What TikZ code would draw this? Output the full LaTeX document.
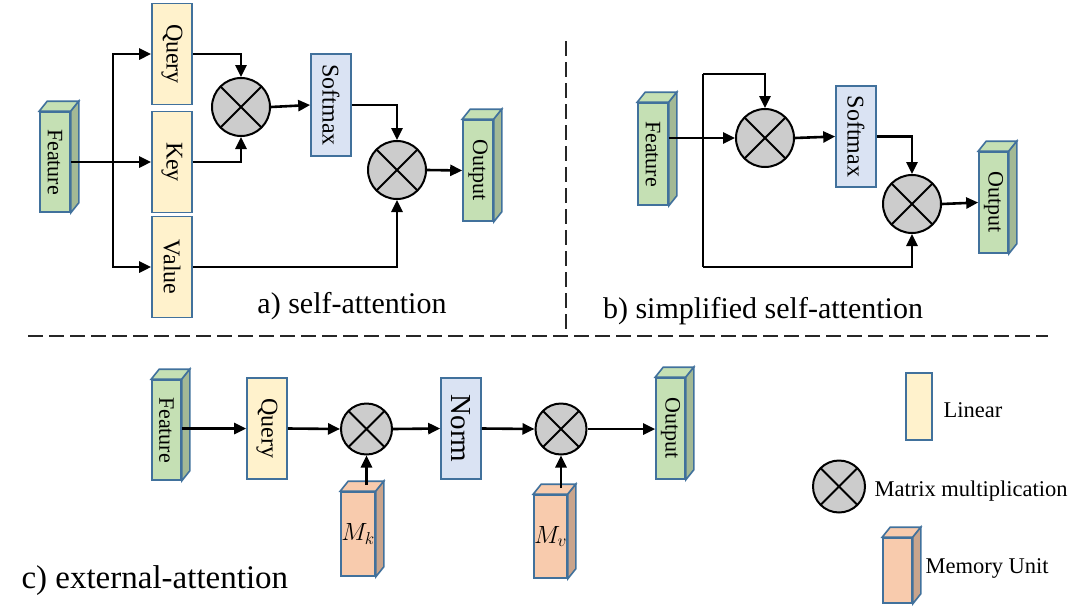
\documentclass[tikz,border=0pt]{standalone}
\usepackage{fontspec}
\setmainfont{Liberation Serif}
\usetikzlibrary{arrows.meta,calc}
\definecolor{bord}{HTML}{41719C}
\definecolor{linfill}{HTML}{FFF2CC}
\definecolor{bluefill}{HTML}{DAE3F3}
\definecolor{grnfront}{HTML}{C5E0B4}
\definecolor{grnside}{HTML}{A3B995}
\definecolor{memfront}{HTML}{F8CBAD}
\definecolor{memside}{HTML}{C9A48C}
\definecolor{mulfill}{HTML}{CCCCCC}
\tikzset{
  box/.style={draw=bord, line width=1.6pt, inner sep=0pt, minimum width=40pt, minimum height=101pt, font=\fontsize{24}{28}\selectfont},
  linbox/.style={box, fill=linfill},
  bluebox/.style={box, fill=bluefill},
  featbox/.style={box, fill=grnfront, minimum width=30pt, minimum height=101pt, font=\fontsize{22}{26}\selectfont},
  membox/.style={box, fill=memfront, minimum width=34pt, minimum height=84pt, font=\fontsize{27}{30}\selectfont},
  mul/.style={circle, draw=black, line width=2pt, fill=mulfill, minimum size=#1, inner sep=0pt,
    path picture={\draw[line width=2pt] (path picture bounding box.north west) -- (path picture bounding box.south east)
      (path picture bounding box.north east) -- (path picture bounding box.south west);}},
  mul/.default=58pt,
  conn/.style={line width=2.6pt, -{Triangle[length=12pt,width=11pt]}},
  plain/.style={line width=2.6pt},
  sep/.style={line width=2.2pt, dash pattern=on 15pt off 6pt, draw=black!85},
  caption/.style={font=\fontsize{30}{34}\selectfont, anchor=base},
  legend/.style={font=\fontsize{22.5}{26}\selectfont, anchor=west},
}
\newcommand{\mydepth}[3]{%
  \filldraw[draw=bord, line width=1.6pt, fill=#2] (#1.north west) -- ++(8,-10) -- ($(#1.north east)+(8,-10)$) -- (#1.north east) -- cycle;
  \filldraw[draw=bord, line width=1.6pt, fill=#3] (#1.north east) -- ++(8,-10) -- ($(#1.south east)+(8,-10)$) -- (#1.south east) -- cycle;
}
\newcommand{\rt}[1]{\rotatebox{-90}{#1}}
\begin{document}
\begin{tikzpicture}[x=1pt,y=-1pt]
\useasboundingbox (0,0) rectangle (1080,611);
% ---------------- a) self-attention
\node[featbox, minimum width=30pt, minimum height=100pt] (fa) at (55,162) {\rt{Feature}};
\mydepth{fa}{grnfront}{grnside}
\node[linbox] (qa) at (172,54) {\rt{Query}};
\node[linbox] (ka) at (172,162) {\rt{Key}};
\node[linbox] (va) at (172,267) {\rt{Value}};
\node[mul] (m1a) at (241,107) {};
\node[bluebox, minimum height=102pt] (sa) at (331,105) {\rt{Softmax}};
\node[mul] (m2a) at (397,170) {};
\node[featbox] (oa) at (478,170.5) {\rt{Output}};
\mydepth{oa}{grnfront}{grnside}
\coordinate (ba) at (113,162);
\draw[conn] (fa.east) -- (ka.west);
\draw[conn] (ba) |- (qa.west);
\draw[conn] (ba) |- (va.west);
\draw[conn] (qa.east) -| (m1a.north);
\draw[conn] (ka.east) -| (m1a.south);
\draw[conn] (m1a.east) -- (sa.west);
\draw[conn] (sa.east) -| (m2a.north);
\draw[conn] (va.east) -| (m2a.south);
\draw[conn] (m2a.east) -- (oa.west);
\node[caption] (capa) at (352,313) {a) self-attention};
% ---------------- b) simplified self-attention
\node[featbox, minimum height=102pt] (fb) at (653,154) {\rt{Feature}};
\mydepth{fb}{grnfront}{grnside}
\node[mul] (m1b) at (765,138) {};
\node[bluebox] (sb) at (856,136.5) {\rt{Softmax}};
\node[mul] (m2b) at (912,204) {};
\node[featbox, minimum width=29pt] (ob) at (993.5,202.5) {\rt{Output}};
\mydepth{ob}{grnfront}{grnside}
\coordinate (bb) at (703,138);
\coordinate (tb) at (703,74);
\coordinate (lb) at (703,267);
\draw[conn] (fb.east |- m1b.west) -- (m1b.west);
\draw[plain] (bb) -- (tb);
\draw[conn] (tb) -| (m1b.north);
\draw[plain] (bb) -- (lb);
\draw[conn] (lb) -| (m2b.south);
\draw[conn] (m1b.east) -- (sb.west);
\draw[conn] (sb.east) -| (m2b.north);
\draw[conn] (m2b.east) -- (ob.west);
\node[caption] (capb) at (763,318) {b) simplified self-attention};
% ---------------- separators
\coordinate (vs1) at (566,41);
\coordinate (vs2) at (566,336);
\coordinate (hs1) at (28,336);
\coordinate (hs2) at (1048,336);
\draw[sep] (vs1) -- (vs2);
\draw[sep] (hs1) -- (hs2);
% ---------------- c) external-attention
\node[featbox, minimum width=29pt, minimum height=100pt] (fc) at (166.5,430) {\rt{Feature}};
\mydepth{fc}{grnfront}{grnside}
\node[linbox] (qc) at (267,428.5) {\rt{Query}};
\node[mul=51pt] (m1c) at (366.5,429) {};
\node[bluebox, font=\fontsize{29}{32}\selectfont] (nc) at (461,428.5) {\rt{Norm}};
\node[mul=51pt] (m2c) at (561,429) {};
\node[featbox, minimum width=29pt] (oc) at (670.5,428.5) {\rt{Output}};
\mydepth{oc}{grnfront}{grnside}
\node[membox] (mk) at (358,534) {$M_k$};
\mydepth{mk}{memfront}{memside}
\node[membox, minimum width=33pt, minimum height=83pt] (mv) at (550.5,536.5) {$M_v$};
\mydepth{mv}{memfront}{memside}
\draw[conn] (fc.east |- qc.west) -- (qc.west);
\draw[conn] (qc.east) -- (m1c.west);
\draw[conn] (m1c.east) -- (nc.west);
\draw[conn] (nc.east) -- (m2c.west);
\draw[conn] (m2c.east) -- (oc.west |- m2c.east);
\draw[conn] ([yshift=6pt]m1c.south |- mk.north) -- (m1c.south);
\draw[conn] ([yshift=6pt]m2c.south |- mv.north) -- (m2c.south);
\node[caption, anchor=base west, font=\fontsize{33}{36}\selectfont] (capc) at (18,588) {c) external-attention};
% ---------------- legend
\node[linbox, minimum width=26pt, minimum height=67pt] (lgl) at (919,406.5) {};
\node[legend] (lglt) at (940,410) {Linear};
\node[mul=52pt] (lgm) at (839,486.5) {};
\node[legend] (lgmt) at (871,491) {Matrix multiplication};
\node[membox, minimum width=29pt, minimum height=65pt] (lgu) at (897.5,570.5) {};
\mydepth{lgu}{memfront}{memside}
\node[legend] (lgut) at (922,568) {Memory Unit};
\end{tikzpicture}
\end{document}
